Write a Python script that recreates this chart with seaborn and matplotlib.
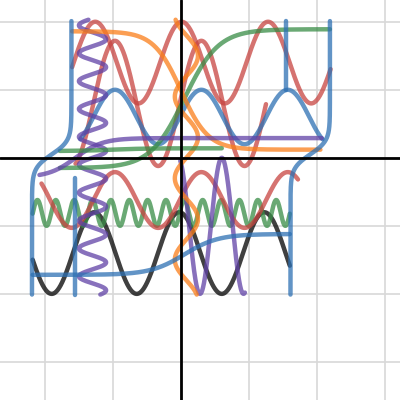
import numpy as np
import matplotlib
matplotlib.use("Agg")
import matplotlib.pyplot as plt
import seaborn as sns

sns.set_theme(style="white")

# view window (graph units) and colours
x_range = [-2.66, 3.22]
y_range = [-3.56, 2.32]
red, blue, green, purple, orange, black = "#c74440", "#2d70b3", "#388c46", "#6042a6", "#fa7e19", "#000000"

# sine curves y = c + a*cos(2pi(x - x0)/p): [colour, x_start, x_end, c, a, p, x0]
wave_curves = [
    [black, -2.18, 1.60, -1.40, -0.60, 1.25, -1.90],
    [green, -2.18, 1.60, -0.81, 0.19, 0.27, -1.30],
    [red, -1.60, 2.20, 1.40, 0.60, 1.27, -1.26],
    [red, -1.55, 1.25, 0.80, 0.92, 1.27, -0.97],
    [red, -2.05, 1.72, -0.62, 0.41, 1.27, -0.97],
    [blue, -1.48, 2.08, 0.60, 0.40, 1.27, -0.97],
    [purple, -0.01, 0.94, -1.00, 1.00, 0.64, 0.60],
]

# vertical sines x = c + a*sin(2pi y/p): [colour, y_start, y_end, c, a, p]
side_waves = [
    [purple, -2.01, 2.03, -1.30, 0.20, 0.41],
    [orange, -2.01, 2.03, 0.08, 0.17, 1.20],
]

# tanh steps y = c + a*tanh(k(x - x0)): [colour, x_start, x_end, c, a, k, x0]
step_curves = [
    [green, -1.78, 2.19, 0.87, 1.02, 2.0, 0.05],
    [orange, -1.60, 2.05, 0.99, -0.87, 2.5, 0.0],
    [purple, -2.08, 2.07, 0.0, 0.29, 2.5, -1.55],
    [blue, -2.18, 1.60, -1.42, 0.30, 2.0, 0.05],
    [green, -1.78, 0.60, 0.12, 0.02, 2.0, -1.0],
]

# sideways tanh x = c + a*tanh(k(y - y0)): [colour, y_start, y_end, c, a, k, y0]
side_steps = [
    [blue, -2.01, 2.01, -1.90, 0.29, 5.0, 0.05],
    [blue, -2.01, 2.01, 1.90, 0.29, 5.0, 0.05],
]

# straight vertical pieces: [colour, x, y_start, y_end]
vertical_bits = [
    [blue, -1.56, -2.01, -0.30],
    [blue, 1.55, 0.99, 2.01],
]

fig, ax = plt.subplots(figsize=(4, 4), dpi=100)
fig.subplots_adjust(0, 0, 1, 1)
lw, al = 3.2, 0.75

for col, xs, xe, c, a, p, x0 in wave_curves:
    x = np.linspace(xs, xe, 800)
    ax.plot(x, c + a * np.cos(2 * np.pi * (x - x0) / p), color=col, lw=lw, alpha=al,
            solid_capstyle="round")
for col, ys, ye, c, a, p in side_waves:
    y = np.linspace(ys, ye, 800)
    ax.plot(c + a * np.sin(2 * np.pi * y / p), y, color=col, lw=lw, alpha=al, solid_capstyle="round")
for col, xs, xe, c, a, k, x0 in step_curves:
    x = np.linspace(xs, xe, 400)
    ax.plot(x, c + a * np.tanh(k * (x - x0)), color=col, lw=lw, alpha=al, solid_capstyle="round")
for col, ys, ye, c, a, k, y0 in side_steps:
    y = np.linspace(ys, ye, 400)
    ax.plot(c + a * np.tanh(k * (y - y0)), y, color=col, lw=lw, alpha=al, solid_capstyle="round")
for col, x, ys, ye in vertical_bits:
    ax.plot([x, x], [ys, ye], color=col, lw=lw, alpha=al, solid_capstyle="round")

ax.axhline(0, color="black", lw=2)
ax.axvline(0, color="black", lw=2)
ax.set_xlim(x_range)
ax.set_ylim(y_range)
ax.set_xticks(np.arange(-2, 4))
ax.set_yticks(np.arange(-3, 3))
ax.grid(True, color="#d8d8d8", lw=1.2)
ax.tick_params(labelleft=False, labelbottom=False, length=0)
for s in ax.spines.values():
    s.set_visible(False)

fig.savefig("out.png", dpi=100)
